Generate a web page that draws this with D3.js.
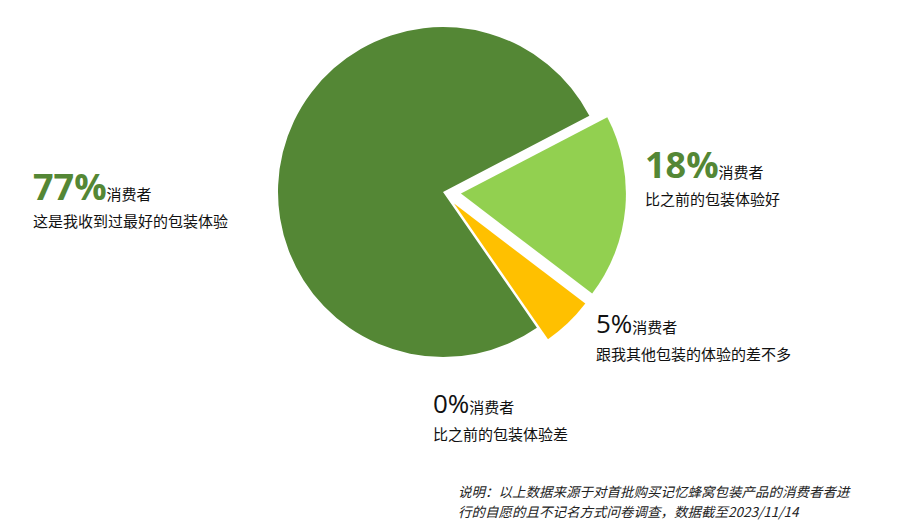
<!DOCTYPE html><html><head><meta charset="utf-8"><script src="https://cdn.jsdelivr.net/npm/d3@7"></script>
<style>body{margin:0;background:#fff}text{font-family:"Noto Sans CJK SC","Noto Sans",sans-serif}</style></head><body>
<svg id="c" width="923" height="528"></svg>
<script>
const categories=["比之前的包装体验好","跟我其他包装的体验的差不多","比之前的包装体验差","这是我收到过最好的包装体验"];
const values=[18,5,0,77];
const colors=["#92d050","#ffc000","#ffffff","#548735"];
const explode=[18,16,0,0];
const svg=d3.select("#c");
const cx=443,cy=192,r=165;
const pie=d3.pie().sort(null).startAngle(62.5*Math.PI/180).endAngle((62.5+360)*Math.PI/180);
const arc=d3.arc().innerRadius(0).outerRadius(r);
const g=svg.append("g").attr("transform",`translate(${cx},${cy})`);
g.selectAll("path").data(pie(values)).join("path")
 .attr("d",arc).attr("fill",(d,i)=>colors[i])
 .attr("transform",(d,i)=>{const m=(d.startAngle+d.endAngle)/2;return `translate(${Math.sin(m)*explode[i]},${-Math.cos(m)*explode[i]})`;});
const labels=[
 {x:33,y:200,pct:"77%",i:3,big:true},
 {x:645,y:178,pct:"18%",i:0,big:true},
 {x:596,y:333,pct:"5%",i:1,big:false},
 {x:433,y:413,pct:"0%",i:2,big:false}];
labels.forEach(l=>{
 const t=svg.append("text").attr("x",l.x).attr("y",l.y);
 t.append("tspan").text(values[l.i]+"%").attr("font-size",l.big?36:26).attr("font-weight",l.big?"bold":"normal").attr("fill",l.big?"#548735":"#111").attr("font-family",'"Open Sans",sans-serif');
 t.append("tspan").text("消费者").attr("font-size",15).attr("fill","#111");
 svg.append("text").attr("x",l.x).attr("y",l.y+27).text(categories[l.i]).attr("font-size",15).attr("fill","#111");
});
const note=["说明：以上数据来源于对首批购买记忆蜂窝包装产品的消费者者进","行的自愿的且不记名方式问卷调查，数据截至2023/11/14"];
note.forEach((s,k)=>svg.append("text").attr("x",458).attr("y",497+k*20).text(s).attr("font-size",13.5).attr("font-style","italic").attr("fill","#222"));
</script></body></html>
